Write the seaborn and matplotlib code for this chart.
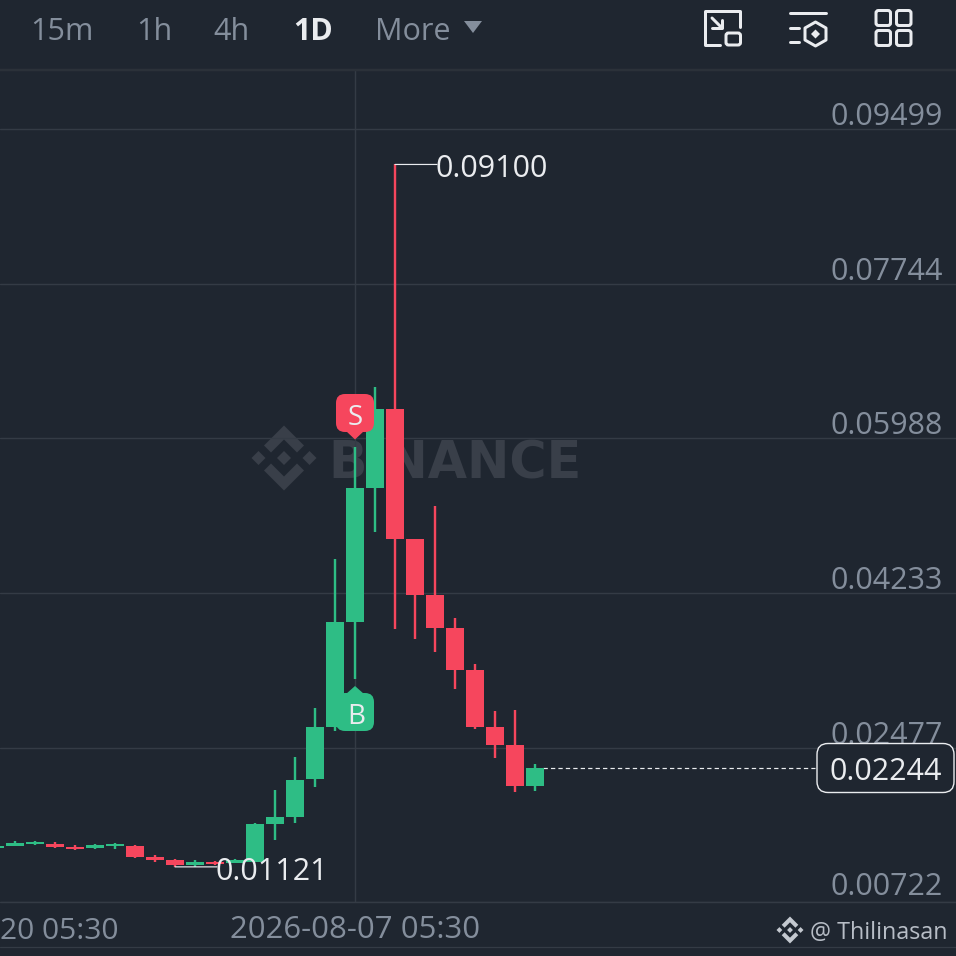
import pandas as pd
import seaborn as sns
import matplotlib.pyplot as plt
from matplotlib.patches import FancyBboxPatch, Polygon

# ---------------------
# 1. DATA
# ---------------------
opens = [0.01332, 0.01362, 0.01377, 0.01384, 0.01350, 0.01339, 0.01355, 0.01358, 0.01233,
         0.01199, 0.01146, 0.01180, 0.01168, 0.01180, 0.01608, 0.01684, 0.02116, 0.02713,
         0.03899, 0.05421, 0.06319, 0.04849, 0.04209, 0.03831, 0.03361, 0.02713, 0.02505, 0.02043]
closes = [0.01362, 0.01392, 0.01404, 0.01347, 0.01321, 0.01373, 0.01381, 0.01233, 0.01199,
          0.01142, 0.01176, 0.01154, 0.01196, 0.01605, 0.01684, 0.02111, 0.02713, 0.03899,
          0.05421, 0.06319, 0.04849, 0.04209, 0.03831, 0.03361, 0.02713, 0.02505, 0.02043, 0.02244]
highs = [0.01368, 0.01411, 0.01410, 0.01404, 0.01369, 0.01381, 0.01389, 0.01369, 0.01256,
         0.01210, 0.01199, 0.01188, 0.01207, 0.01616, 0.01991, 0.02372, 0.02929, 0.04618,
         0.05894, 0.06568, 0.09100, 0.04849, 0.05220, 0.03948, 0.03422, 0.02892, 0.02903, 0.02286]
lows = [0.01326, 0.01358, 0.01372, 0.01332, 0.01313, 0.01327, 0.01327, 0.01222, 0.01180,
        0.01121, 0.01123, 0.01146, 0.01162, 0.01175, 0.01426, 0.01616, 0.02032, 0.02668,
        0.03255, 0.04928, 0.03820, 0.03709, 0.03565, 0.03145, 0.02687, 0.02361, 0.01971, 0.01986]

price_ticks = [0.09499, 0.07744, 0.05988, 0.04233, 0.02477, 0.00722]
price_labels = ['0.09499', '0.07744', '0.05988', '0.04233', '0.02477', '0.00722']
date_ticks = [18]
date_labels = ['2026-08-07 05:30']
clipped_date = '20 05:30'
tabs = ['15m', '1h', '4h', '1D', 'More']

# colours
BG = '#1F2630'
GRID = '#343B45'
GREEN = '#2EBD85'
RED = '#F6465D'
DIM = '#848E9C'
WHITE = '#EAECEF'
MARK = '#393F49'
FS = 22

sns.set_theme(style='dark', rc={'figure.facecolor': BG, 'axes.facecolor': BG})
plt.rcParams['font.family'] = ['Open Sans', 'DejaVu Sans']

candles = pd.DataFrame({'idx': range(len(opens)), 'open': opens, 'close': closes,
                        'high': highs, 'low': lows})
candles['dir'] = ['up' if c >= o else 'down' for o, c in zip(opens, closes)]
wicks = candles.melt(id_vars=['idx', 'dir'], value_vars=['high', 'low'], value_name='price')
palette = {'up': GREEN, 'down': RED}

# ---------------------
# 2. LAYERS (pixels: 956 x 956)
# ---------------------
fig = plt.figure(figsize=(9.56, 9.56), dpi=100)
PX = 0.72  # one pixel in points


def layer(z):
    a = fig.add_axes([0, 0, 1, 1], zorder=z)
    a.set_xlim(0, 956)
    a.set_ylim(956, 0)
    a.axis('off')
    return a


back = layer(0)
ax = fig.add_axes([0, 54 / 956, 1, 832 / 956], zorder=1)
ax.patch.set_alpha(0)
front = layer(2)


def logo(a, cx, cy, s, color):
    pieces = [
        [(0, -32.5), (20, -12.5), (13, -5.5), (0, -18.5), (-13, -5.5), (-20, -12.5)],
        [(0, 32.5), (20, 12.5), (13, 5.5), (0, 18.5), (-13, 5.5), (-20, 12.5)],
        [(0, -7), (7, 0), (0, 7), (-7, 0)],
        [(-25.5, -7), (-18.5, 0), (-25.5, 7), (-32.5, 0)],
        [(25.5, -7), (32.5, 0), (25.5, 7), (18.5, 0)],
    ]
    for p in pieces:
        a.add_patch(Polygon([(cx + x * s, cy + y * s) for x, y in p], fc=color, ec='none'))


# watermark sits under the candles
logo(back, 284, 458, 1, MARK)
back.text(328, 458.5, 'BINANCE', color=MARK, fontsize=36.5, fontweight='bold',
          family='DejaVu Sans', va='center_baseline', ha='left')

# ---------------------
# 3. CANDLES
# ---------------------
sns.lineplot(data=wicks, x='idx', y='price', units='idx', estimator=None, hue='dir',
             palette=palette, legend=False, linewidth=2.4 * PX, solid_capstyle='butt', ax=ax, zorder=3)
# bodies as bars: a thick line whose centre is off the canvas would not draw at all
ax.bar(candles['idx'], (candles['close'] - candles['open']).abs(),
       bottom=candles[['open', 'close']].min(axis=1), width=0.875,
       color=candles['dir'].map(palette), linewidth=0, zorder=4)

ax.set_xlabel('')
ax.set_ylabel('')
ax.set_yticks(price_ticks)
ax.set_yticklabels([])
ax.set_xticks(date_ticks)
ax.set_xticklabels(date_labels, color=DIM, fontsize=22.4)
# limits come after the ticks, set_xticks would widen them
ax.set_xlim(0.25, 48.05)
ax.set_ylim(0.00722, 0.10173)
ax.tick_params(axis='x', length=0, pad=9.5)
ax.tick_params(axis='y', length=0)
ax.grid(True, axis='y', color=GRID, linewidth=1.4 * PX)
ax.grid(False, axis='x')
ax.axvline(date_ticks[0], color=GRID, linewidth=1.4 * PX, zorder=1)
sns.despine(ax=ax, left=True, right=True, top=True, bottom=True)

for val, lab in zip(price_ticks, price_labels):
    # bottom label sits a bit higher above its line
    rise = 18.5 if lab == '0.00722' else 15.5
    ax.annotate(lab, xy=(1, val), xycoords=('axes fraction', 'data'), xytext=(-13.5 * PX, rise * PX),
                textcoords='offset points', ha='right', va='center_baseline', color=DIM, fontsize=FS, zorder=5)

# last price line
ax.plot([27.4, 41], [closes[-1], closes[-1]], color=WHITE, linewidth=1.2 * PX,
        dashes=(3.6, 2.6), zorder=2)

# high and low labels
ax.annotate('0.09100', xy=(20, highs[20]), xytext=(40.5 * PX, -1 * PX), textcoords='offset points',
            color=WHITE, fontsize=FS, va='center_baseline', ha='left', zorder=6)
ax.annotate('', xy=(20, highs[20]), xytext=(42 * PX, 0), textcoords='offset points',
            arrowprops=dict(arrowstyle='-', color=WHITE, linewidth=1.2 * PX, shrinkA=0, shrinkB=0), zorder=6)
ax.annotate('0.01121', xy=(9, lows[9]), xytext=(40.5 * PX, -1.5 * PX), textcoords='offset points',
            color=WHITE, fontsize=FS, va='center_baseline', ha='left', zorder=6)
ax.annotate('', xy=(9, lows[9]), xytext=(42 * PX, 0), textcoords='offset points',
            arrowprops=dict(arrowstyle='-', color=WHITE, linewidth=1.2 * PX, shrinkA=0, shrinkB=0), zorder=6)

# ---------------------
# 4. TOP BAR, ICONS, TAGS
# ---------------------
front.plot([0, 956], [70, 70], color='#2B3139', linewidth=2.5 * PX)
front.plot([0, 956], [902, 902], color=GRID, linewidth=1.4 * PX)
front.plot([0, 956], [946.5, 946.5], color=GRID, linewidth=1.2 * PX)

front.text(119, 928, clipped_date, color=DIM, fontsize=21.6, va='center_baseline', ha='right')

for lab, x in zip(tabs, [30.5, 136.5, 213, 293, 375]):
    active = lab == '1D'
    front.text(x, 28, lab, color=WHITE if active else DIM, fontsize=FS,
               fontweight='bold' if active else 'normal', va='center_baseline', ha='left')
front.add_patch(Polygon([(464, 21), (482, 21), (473, 33)], fc=DIM, ec='none'))


def stroke(xs, ys):
    front.plot(xs, ys, color=WHITE, linewidth=3 * PX, solid_capstyle='round', solid_joinstyle='round')


def rbox(x, y, w, h, r=2.5, **kw):
    return FancyBboxPatch((x, y), w, h, boxstyle=f'round,pad=0,rounding_size={r}', **kw)


# icon 1
stroke([720, 705.5, 705.5, 740.5, 740.5], [45, 45, 10.5, 10.5, 27])
front.add_patch(rbox(726, 33, 14.5, 12, fc='none', ec=WHITE, linewidth=3 * PX))
stroke([712, 722], [18, 28])
stroke([712, 722, 722], [28, 28, 20])
# icon 2
stroke([790, 826], [13, 13])
stroke([790, 799], [28, 28])
stroke([790, 799], [42, 42])
front.add_patch(Polygon([(815.5, 22), (826, 28), (826, 40), (815.5, 46), (805, 40), (805, 28)],
                        fc='none', ec=WHITE, linewidth=3 * PX, joinstyle='round'))
front.add_patch(Polygon([(815.5, 29.5), (820, 34), (815.5, 38.5), (811, 34)], fc=WHITE, ec='none'))
# icon 3
for x in (876, 896.5):
    for y in (10.5, 30.5):
        front.add_patch(rbox(x, y, 14.5, 15, fc='none', ec=WHITE, linewidth=3 * PX))

# last price tag
front.add_patch(rbox(817, 743.5, 137, 49, r=11, fc=BG, ec=WHITE, linewidth=1.4 * PX))
front.text(942.5, 769, '0.02244', color=WHITE, fontsize=FS, va='center_baseline', ha='right')

# S and B markers
front.add_patch(rbox(336, 394, 38, 38, r=9, fc=RED, ec='none'))
front.add_patch(Polygon([(346, 431), (364, 431), (355, 439.5)], fc=RED, ec='none'))
front.text(355, 414.5, 'S', color=WHITE, fontsize=20, va='center_baseline', ha='center')
front.add_patch(rbox(336, 693, 38, 38, r=9, fc=GREEN, ec='none'))
front.add_patch(Polygon([(346, 694), (364, 694), (355, 686)], fc=GREEN, ec='none'))
front.text(356, 713.5, 'B', color=WHITE, fontsize=20, va='center_baseline', ha='center')

# footer
logo(front, 790, 930, 0.415, '#C4C9D0')
front.text(810, 930, '@ Thilinasan', color='#B7BDC6', fontsize=16.8, va='center_baseline', ha='left')

plt.savefig('out.png', dpi=100, facecolor=BG)
